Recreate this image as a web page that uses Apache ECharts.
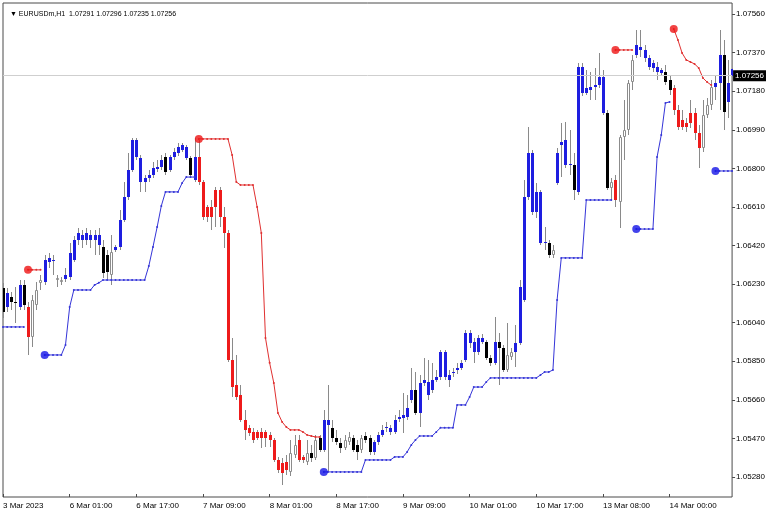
<!DOCTYPE html>
<html><head><meta charset="utf-8">
<script src="https://cdn.jsdelivr.net/npm/echarts@6/dist/echarts.min.js"></script>
<style>html,body{margin:0;padding:0;background:#fff}#c{width:768px;height:512px}</style>
</head><body><div id="c"></div>
<script>
const symbolTitle = 'EURUSDm,H1';
const tickLabels = ['3 Mar 2023','6 Mar 01:00','6 Mar 17:00','7 Mar 09:00','8 Mar 01:00','8 Mar 17:00','9 Mar 09:00','10 Mar 01:00','10 Mar 17:00','13 Mar 08:00','14 Mar 00:00'];
const barsPerTick = 16;
const priceTicks = [1.05280,1.05470,1.05660,1.05850,1.06040,1.06230,1.06420,1.06610,1.06800,1.06990,1.07180,1.07370,1.07560];

const openP = [
1.06211,1.06117,1.06167,1.06142,1.06117,1.06226,1.06117,1.05970,1.06127,1.06236,
1.06240,1.06339,1.06344,1.06250,1.06240,1.06255,1.06265,1.06349,1.06447,1.06472,
1.06447,1.06472,1.06447,1.06472,1.06413,1.06373,1.06275,1.06398,1.06413,1.06546,
1.06659,1.06792,1.06940,1.06851,1.06733,1.06752,1.06767,1.06797,1.06807,1.06856,
1.06792,1.06856,1.06876,1.06890,1.06905,1.06851,1.06743,1.06856,1.06733,1.06610,
1.06561,1.06610,1.06693,1.06561,1.06482,1.05856,1.05733,1.05684,1.05561,1.05522,
1.05502,1.05502,1.05502,1.05502,1.05487,1.05462,1.05364,1.05349,1.05354,1.05305,
1.05389,1.05462,1.05379,1.05354,1.05398,1.05374,1.05472,1.05413,1.05561,1.05522,
1.05472,1.05448,1.05423,1.05453,1.05472,1.05438,1.05413,1.05482,1.05472,1.05403,
1.05453,1.05487,1.05522,1.05522,1.05502,1.05566,1.05571,1.05576,1.05659,1.05709,
1.05595,1.05743,1.05748,1.05709,1.05758,1.05773,1.05896,1.05782,1.05792,1.05807,
1.05817,1.05856,1.05989,1.05945,1.05896,1.05965,1.05945,1.05866,1.05842,1.05945,
1.05915,1.05807,1.05871,1.05896,1.05940,1.06152,1.06659,1.06876,1.06585,1.06684,
1.06432,1.06432,1.06373,1.06728,1.06915,1.06940,1.06817,1.06817,1.06684,1.07299,
1.07171,1.07186,1.07201,1.07210,1.07250,1.07073,1.06703,1.06743,1.06634,1.06954,
1.06989,1.07225,1.07358,1.07398,1.07383,1.07343,1.07319,1.07299,1.07284,1.07274,
1.07235,1.07196,1.07087,1.07038,1.07023,1.07023,1.07073,1.06974,1.06900,1.07063,
1.07112,1.07201,1.07220,1.07358,1.07127,1.07291];
const highP = [
1.06236,1.06211,1.06191,1.06216,1.06250,1.06250,1.06142,1.06176,1.06240,1.06275,
1.06373,1.06383,1.06373,1.06275,1.06265,1.06309,1.06432,1.06467,1.06506,1.06496,
1.06506,1.06496,1.06496,1.06506,1.06447,1.06398,1.06472,1.06423,1.06595,1.06733,
1.06876,1.06950,1.06950,1.06866,1.06767,1.06792,1.06831,1.06841,1.06866,1.06876,
1.06866,1.06900,1.06925,1.06925,1.06915,1.06861,1.06950,1.06940,1.06743,1.06620,
1.06644,1.06708,1.06708,1.06610,1.06496,1.05965,1.05881,1.05733,1.05610,1.05536,
1.05522,1.05512,1.05522,1.05512,1.05502,1.05472,1.05379,1.05374,1.05389,1.05462,
1.05487,1.05487,1.05389,1.05462,1.05438,1.05487,1.05487,1.05610,1.05733,1.05561,
1.05512,1.05472,1.05487,1.05502,1.05487,1.05462,1.05487,1.05502,1.05487,1.05462,
1.05502,1.05536,1.05551,1.05536,1.05586,1.05610,1.05694,1.05684,1.05817,1.05797,
1.05782,1.05866,1.05856,1.05842,1.05807,1.05906,1.05906,1.05807,1.05817,1.05842,
1.05856,1.06004,1.06004,1.05965,1.05979,1.05984,1.05955,1.05881,1.06068,1.05989,
1.05930,1.06039,1.05915,1.06029,1.06250,1.06743,1.07004,1.06890,1.06728,1.06693,
1.06511,1.06447,1.06423,1.06900,1.07023,1.07028,1.06989,1.06876,1.07319,1.07319,
1.07284,1.07274,1.07294,1.07368,1.07284,1.07087,1.06752,1.06767,1.06964,1.07137,
1.07235,1.07358,1.07481,1.07481,1.07407,1.07358,1.07334,1.07324,1.07294,1.07309,
1.07260,1.07210,1.07112,1.07087,1.07048,1.07137,1.07097,1.07014,1.07137,1.07146,
1.07235,1.07260,1.07481,1.07432,1.07334,1.07296];
const lowP = [
1.06063,1.06093,1.06103,1.06039,1.06103,1.06103,1.05881,1.05920,1.06103,1.06201,
1.06226,1.06309,1.06275,1.06216,1.06226,1.06240,1.06250,1.06339,1.06423,1.06408,
1.06423,1.06408,1.06373,1.06373,1.06260,1.06250,1.06226,1.06388,1.06398,1.06536,
1.06644,1.06782,1.06841,1.06684,1.06684,1.06733,1.06752,1.06782,1.06792,1.06767,
1.06782,1.06841,1.06861,1.06881,1.06841,1.06752,1.06733,1.06718,1.06546,1.06536,
1.06496,1.06511,1.06511,1.06408,1.05847,1.05674,1.05659,1.05551,1.05462,1.05482,
1.05448,1.05462,1.05423,1.05428,1.05428,1.05354,1.05300,1.05241,1.05290,1.05285,
1.05374,1.05354,1.05349,1.05339,1.05354,1.05364,1.05403,1.05403,1.05305,1.05453,
1.05438,1.05398,1.05413,1.05438,1.05403,1.05364,1.05398,1.05448,1.05389,1.05389,
1.05438,1.05477,1.05502,1.05487,1.05492,1.05551,1.05497,1.05561,1.05645,1.05586,
1.05526,1.05728,1.05659,1.05694,1.05748,1.05758,1.05758,1.05723,1.05773,1.05787,
1.05807,1.05847,1.05915,1.05842,1.05881,1.05935,1.05856,1.05827,1.05832,1.05733,
1.05797,1.05797,1.05856,1.05822,1.05930,1.06142,1.06644,1.06570,1.06556,1.06423,
1.06398,1.06359,1.06359,1.06718,1.06757,1.06802,1.06767,1.06644,1.06669,1.07156,
1.07161,1.07137,1.07137,1.07196,1.07063,1.06693,1.06644,1.06610,1.06506,1.06841,
1.06964,1.07186,1.07343,1.07348,1.07324,1.07284,1.07274,1.07235,1.07260,1.07210,
1.07161,1.07063,1.06989,1.06989,1.06979,1.06999,1.06940,1.06802,1.06881,1.07048,
1.07087,1.07137,1.07087,1.06989,1.07048,1.07235];
const closeP = [
1.06093,1.06186,1.06142,1.06137,1.06226,1.06127,1.05970,1.06152,1.06201,1.06250,
1.06349,1.06359,1.06349,1.06260,1.06250,1.06275,1.06383,1.06447,1.06482,1.06447,
1.06482,1.06447,1.06472,1.06423,1.06285,1.06290,1.06388,1.06413,1.06546,1.06659,
1.06792,1.06940,1.06856,1.06733,1.06752,1.06767,1.06802,1.06807,1.06841,1.06782,
1.06856,1.06881,1.06905,1.06915,1.06851,1.06767,1.06856,1.06733,1.06561,1.06561,
1.06610,1.06693,1.06561,1.06482,1.05856,1.05723,1.05674,1.05561,1.05512,1.05497,
1.05462,1.05472,1.05472,1.05472,1.05462,1.05364,1.05315,1.05300,1.05315,1.05398,
1.05438,1.05364,1.05364,1.05398,1.05374,1.05462,1.05413,1.05561,1.05536,1.05472,
1.05453,1.05423,1.05462,1.05477,1.05413,1.05403,1.05472,1.05462,1.05403,1.05453,
1.05487,1.05512,1.05526,1.05502,1.05561,1.05576,1.05586,1.05620,1.05709,1.05595,
1.05743,1.05758,1.05684,1.05758,1.05773,1.05896,1.05773,1.05758,1.05797,1.05817,
1.05842,1.05989,1.05940,1.05896,1.05965,1.05945,1.05866,1.05842,1.05945,1.05915,
1.05807,1.05881,1.05896,1.05940,1.06216,1.06659,1.06876,1.06585,1.06684,1.06432,
1.06437,1.06373,1.06398,1.06876,1.06930,1.06817,1.06821,1.06693,1.07299,1.07171,
1.07196,1.07201,1.07210,1.07250,1.07073,1.06703,1.06733,1.06644,1.06954,1.06989,
1.07220,1.07334,1.07407,1.07383,1.07343,1.07299,1.07294,1.07274,1.07270,1.07225,
1.07186,1.07087,1.07004,1.07004,1.07004,1.07073,1.06974,1.06900,1.07063,1.07112,
1.07201,1.07220,1.07358,1.07078,1.07220,1.07256];
// bar state: b = uptrend, r = downtrend, w = neutral bull, k = neutral bear
const barState =
'kbkkbkrwww'+'bbbwwbbbbb'+'bbbbkkwbbb'+'bbbbbbbbbk'+'bbbbbkbrrr'+
'rrrrrrrrrr'+'rrrrrrrrrw'+'wrrwkwkbbk'+'kkwwkkwkkb'+'bbbbbbbbbk'+
'bbbbbbbbbb'+'bbbbbbkkbk'+'kwwbbbbbbb'+'bkwbbbbkbb'+'bbbbbkwrww'+
'wwbbbbbbbk'+'krrrrrrrww'+'wbbkbb';

const supportLine = [
1.06019,1.06019,1.06019,1.06019,1.06019,1.06019,null,null,null,null,
1.05881,1.05881,1.05881,1.05881,1.05881,1.05930,1.06117,1.06201,1.06201,1.06201,
1.06201,1.06201,1.06226,1.06236,1.06250,1.06250,1.06250,1.06250,1.06250,1.06250,
1.06250,1.06250,1.06250,1.06250,1.06250,1.06319,1.06413,1.06511,1.06615,1.06684,
1.06684,1.06684,1.06684,1.06728,1.06757,1.06757,1.06757,null,null,null,
null,null,null,null,null,null,null,null,null,null,
null,null,null,null,null,null,null,null,null,null,
null,null,null,null,null,null,null,1.05305,1.05305,1.05305,
1.05305,1.05305,1.05305,1.05305,1.05305,1.05305,1.05305,1.05364,1.05364,1.05364,
1.05364,1.05364,1.05364,1.05364,1.05379,1.05379,1.05379,1.05403,1.05438,1.05462,
1.05482,1.05482,1.05482,1.05482,1.05502,1.05522,1.05522,1.05522,1.05522,1.05635,
1.05635,1.05635,1.05674,1.05723,1.05723,1.05723,1.05748,1.05768,1.05768,1.05768,
1.05768,1.05768,1.05768,1.05768,1.05768,1.05768,1.05768,1.05768,1.05768,1.05782,
1.05797,1.05797,1.05807,1.06152,1.06359,1.06359,1.06359,1.06359,1.06359,1.06359,
1.06644,1.06644,1.06644,1.06644,1.06644,1.06644,1.06644,null,null,null,
null,null,1.06501,1.06501,1.06501,1.06501,1.06501,1.06856,1.06964,1.07122,
1.07127,null,null,null,null,null,null,null,null,null,
null,1.06787,1.06787,1.06787,1.06787,1.06787];
const resistLine = [
null,null,null,null,null,null,1.06300,1.06300,1.06300,1.06300,
null,null,null,null,null,null,null,null,null,null,
null,null,null,null,null,null,null,null,null,null,
null,null,null,null,null,null,null,null,null,null,
null,null,null,null,null,null,null,1.06945,1.06945,1.06945,
1.06945,1.06945,1.06945,1.06945,1.06945,1.06866,1.06733,1.06718,1.06718,1.06718,
1.06718,1.06610,1.06482,1.05965,1.05842,1.05743,1.05595,1.05551,1.05526,1.05512,
1.05512,1.05512,1.05502,1.05487,1.05482,1.05477,1.05477,null,null,null,
null,null,null,null,null,null,null,null,null,null,
null,null,null,null,null,null,null,null,null,null,
null,null,null,null,null,null,null,null,null,null,
null,null,null,null,null,null,null,null,null,null,
null,null,null,null,null,null,null,null,null,null,
null,null,null,null,null,null,null,null,null,null,
null,null,null,null,null,null,null,1.07383,1.07383,1.07383,
1.07383,1.07383,null,null,null,null,null,null,null,null,
null,1.07486,1.07432,1.07368,1.07334,1.07324,1.07314,1.07294,1.07245,1.07225,
1.07210,null,null,null,null,null];

const FONT = "'Liberation Sans', Arial, sans-serif";
const palette = {
  b: {fill:'#1e1ee0', stroke:null},
  r: {fill:'#ee1b1b', stroke:null},
  k: {fill:'#000000', stroke:null},
  w: {fill:'#ffffff', stroke:'#8c8c8c'}
};
const n = openP.length;
const cats = openP.map((_, i) => String(i));
const candleData = openP.map((o, i) => [i, o, closeP[i], lowP[i], highP[i]]);
function segStarts(arr){
  const out = [];
  arr.forEach((v, i) => { if (v != null && i > 0 && arr[i-1] == null) out.push([i, v]); });
  return out;
}
const last = n - 1;
const header = '\u25BC ' + symbolTitle + '  ' + [openP[last], highP[last], lowP[last], closeP[last]].map(v => v.toFixed(5)).join(' ');

const chart = echarts.init(document.getElementById('c'), null, {renderer:'canvas'});
chart.setOption({
  animation: false,
  backgroundColor: '#ffffff',
  title: {text: header, left: 5, top: 6, textStyle: {fontFamily: FONT, fontSize: 7, fontWeight: 'normal', color: '#000'}},
  grid: {left: 3, top: 3, width: 730, height: 494, show: true, borderColor: '#4a4a4a', borderWidth: 1, backgroundColor: '#fff'},
  xAxis: {
    type: 'category', data: cats, boundaryGap: false,
    axisLine: {show: false},
    axisTick: {show: true, inside: true, length: 3, interval: (i) => i % barsPerTick === 0, lineStyle: {color: '#4a4a4a'}},
    axisLabel: {
      show: true, interval: (i) => i % barsPerTick === 0,
      formatter: (v, i) => tickLabels[i / barsPerTick] || '', align: 'left', margin: 5,
      fontFamily: FONT, fontSize: 8, color: '#000'
    },
    splitLine: {show: false}
  },
  yAxis: {
    type: 'value', position: 'right', min: 1.051815, max: 1.076142, scale: true,
    axisLine: {show: false},
    axisTick: {show: true, length: 3, customValues: priceTicks, lineStyle: {color: '#4a4a4a'}},
    axisLabel: {customValues: priceTicks, formatter: (v) => v.toFixed(5), margin: 4, fontFamily: FONT, fontSize: 8, color: '#000'},
    splitLine: {show: false}
  },
  series: [
    {
      type: 'custom', name: 'candles', data: candleData, clip: true, z: 2, silent: true,
      encode: {x: 0, y: [1, 2, 3, 4]},
      renderItem: function (params, api) {
        const i = api.value(0);
        const o = api.coord([i, api.value(1)]), c = api.coord([i, api.value(2)]);
        const l = api.coord([i, api.value(3)]), h = api.coord([i, api.value(4)]);
        const xc = Math.round(o[0]);
        const top = Math.round(Math.min(o[1], c[1])), bot = Math.round(Math.max(o[1], c[1]));
        const pal = palette[barState[params.dataIndex]];
        const children = [
          {type: 'line', shape: {x1: xc + 0.5, y1: Math.round(h[1]), x2: xc + 0.5, y2: Math.round(l[1])}, style: {stroke: '#8a8a8a', lineWidth: 1}}
        ];
        if (pal.stroke) {
          children.push({type: 'rect', shape: {x: xc - 0.5, y: top + 0.5, width: 2, height: Math.max(bot - top - 1, 0)}, style: {fill: pal.fill, stroke: pal.stroke, lineWidth: 1}});
        } else {
          children.push({type: 'rect', shape: {x: xc - 1, y: top, width: 3, height: Math.max(bot - top, 1)}, style: {fill: pal.fill}});
        }
        return {type: 'group', children: children};
      }
    },
    {
      type: 'line', name: 'support', data: supportLine, connectNulls: false, z: 3, silent: true,
      symbol: 'circle', symbolSize: 2, showSymbol: true, showAllSymbol: true,
      lineStyle: {color: '#3535d8', width: 1}, itemStyle: {color: '#3535d8'},
      markLine: {
        silent: true, symbol: ['none', 'none'], animation: false, precision: 5,
        data: [{yAxis: closeP[last]}],
        lineStyle: {color: '#cfcfcf', width: 1, type: 'solid'},
        label: {show: true, position: 'end', formatter: closeP[last].toFixed(5), color: '#fff', backgroundColor: '#000', fontFamily: FONT, fontSize: 8, padding: [2, 2, 1, 2], distance: 1}
      }
    },
    {
      type: 'line', name: 'resistance', data: resistLine, connectNulls: false, z: 3, silent: true,
      symbol: 'circle', symbolSize: 2, showSymbol: true, showAllSymbol: true,
      lineStyle: {color: '#e03030', width: 1}, itemStyle: {color: '#e03030'}
    },
    {type: 'scatter', data: segStarts(supportLine), symbolSize: 8, itemStyle: {color: '#1414e6'}, z: 4, silent: true},
    {type: 'scatter', data: segStarts(resistLine), symbolSize: 8, itemStyle: {color: '#ee1414'}, z: 4, silent: true}
  ]
});
</script></body></html>
